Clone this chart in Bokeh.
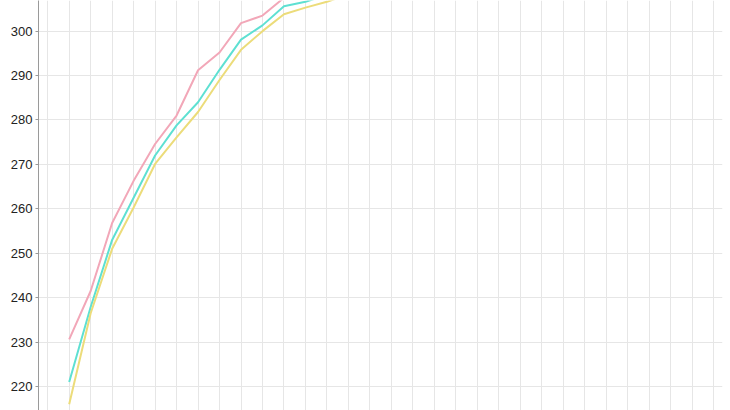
from bokeh.plotting import figure
from bokeh.models import Range1d, FixedTicker
from bokeh.embed import file_html
from bokeh.resources import INLINE

# Data
x_index = [1, 2, 3, 4, 5, 6, 7, 8, 9, 10, 11, 12, 13, 14]
pink = [230.6, 241.5, 256.8, 266.3, 274.6, 281.0, 291.2, 295.2, 301.8, 303.5, 307.5, 309.5, 311.0, 312.0]
cyan = [221.0, 237.9, 253.0, 262.5, 272.0, 278.8, 284.0, 291.3, 298.1, 301.3, 305.6, 306.6, 308.2, 309.5]
yellow = [216.0, 236.5, 251.0, 260.3, 270.1, 276.1, 281.8, 289.0, 295.8, 300.0, 303.8, 305.3, 306.6, 308.3]
y_ticks = [220, 230, 240, 250, 260, 270, 280, 290, 300]
x_ticks = list(range(0, 32))

p = figure(width=730, height=410, output_backend="svg", toolbar_location=None,
           x_range=Range1d(-0.429, 31.42), y_range=Range1d(214.6, 306.9),
           min_border_left=38, min_border_right=8, min_border_top=0, min_border_bottom=0)
p.outline_line_color = None
p.background_fill_color = "white"
p.border_fill_color = "white"

p.xaxis.visible = False
p.xgrid.ticker = FixedTicker(ticks=x_ticks)
p.xgrid.grid_line_color = "#e6e6e6"
p.xgrid.grid_line_width = 1

p.yaxis.ticker = FixedTicker(ticks=y_ticks)
p.yaxis.minor_tick_line_color = None
p.yaxis.major_tick_in = 0
p.yaxis.major_tick_out = 3
p.yaxis.major_label_standoff = 3
p.yaxis.axis_line_color = "#9a9a9a"
p.yaxis.major_tick_line_color = "#9a9a9a"
p.yaxis.major_label_text_font = "Liberation Sans"
p.yaxis.major_label_text_font_size = "13px"
p.yaxis.major_label_text_color = "#222222"
p.ygrid.grid_line_color = "#e6e6e6"
p.ygrid.grid_line_width = 1

p.line(x_index, pink, line_color="#f2a7b8", line_width=2)
p.line(x_index, cyan, line_color="#5ee0d2", line_width=2)
p.line(x_index, yellow, line_color="#ecdc7a", line_width=2)

open("out.html", "w").write(file_html(p, INLINE))
